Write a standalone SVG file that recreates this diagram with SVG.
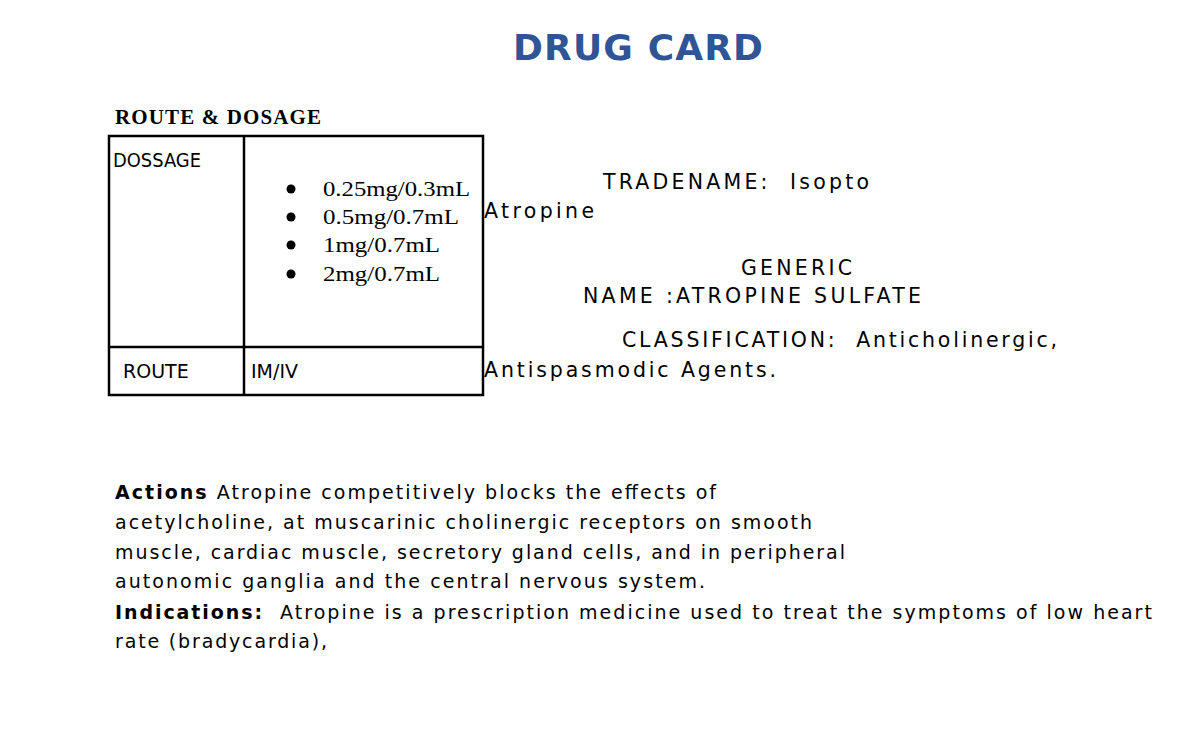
<svg xmlns="http://www.w3.org/2000/svg" width="1200" height="751" viewBox="0 0 1200 751">
<style>
.s{font-family:"DejaVu Sans",Verdana,sans-serif;font-size:19px;fill:#000}
.t{font-family:"DejaVu Sans",Verdana,sans-serif;font-size:20.5px;fill:#000}
.r{font-family:"Liberation Serif","Times New Roman",serif;font-size:21px;fill:#000}
.b{font-weight:bold}
</style>
<rect width="1200" height="751" fill="#fff"/>
<text x="513" y="60" textLength="250" lengthAdjust="spacing" font-family="DejaVu Sans,sans-serif" font-size="36" font-weight="bold" fill="#2f5597">DRUG CARD</text>
<text x="115" y="124" class="r b" font-size="19" textLength="206" lengthAdjust="spacing">ROUTE &amp; DOSAGE</text>
<g fill="none" stroke="#000" stroke-width="2.5">
<rect x="109" y="136" width="374" height="259"/>
<line x1="244" y1="136" x2="244" y2="395"/>
<line x1="109" y1="347" x2="483" y2="347"/>
</g>
<text x="113" y="167" class="s" font-size="15" textLength="88" lengthAdjust="spacingAndGlyphs">DOSSAGE</text>
<g fill="#000"><circle cx="291" cy="189" r="4.5"/><circle cx="291" cy="217" r="4.5"/><circle cx="291" cy="245" r="4.5"/><circle cx="291" cy="274" r="4.5"/></g>
<text x="323" y="196" class="r" textLength="147" lengthAdjust="spacingAndGlyphs">0.25mg/0.3mL</text>
<text x="323" y="224" class="r" textLength="136" lengthAdjust="spacingAndGlyphs">0.5mg/0.7mL</text>
<text x="323" y="252" class="r" textLength="117" lengthAdjust="spacingAndGlyphs">1mg/0.7mL</text>
<text x="323" y="281" class="r" textLength="117" lengthAdjust="spacingAndGlyphs">2mg/0.7mL</text>
<text x="123" y="378" class="s" font-size="16">ROUTE</text>
<text x="251" y="378" class="s" font-size="16">IM/IV</text>
<text x="603" y="189" class="t" textLength="266" lengthAdjust="spacing" xml:space="preserve">TRADENAME:  Isopto</text>
<text x="484" y="218" class="t" textLength="110" lengthAdjust="spacing">Atropine</text>
<text x="741" y="275" class="t" textLength="111" lengthAdjust="spacing">GENERIC</text>
<text x="583" y="303" class="t" textLength="338" lengthAdjust="spacing">NAME :ATROPINE SULFATE</text>
<text x="622" y="347" class="t" xml:space="preserve" textLength="435" lengthAdjust="spacing">CLASSIFICATION:  Anticholinergic,</text>
<text x="484" y="377" class="t" textLength="292" lengthAdjust="spacing">Antispasmodic Agents.</text>
<text x="115" y="499" class="s" textLength="601" lengthAdjust="spacing"><tspan class="b">Actions</tspan> Atropine competitively blocks the effects of</text>
<text x="115" y="529" class="s" textLength="697" lengthAdjust="spacing">acetylcholine, at muscarinic cholinergic receptors on smooth</text>
<text x="115" y="559" class="s" textLength="730" lengthAdjust="spacing">muscle, cardiac muscle, secretory gland cells, and in peripheral</text>
<text x="115" y="588" class="s" textLength="590" lengthAdjust="spacing">autonomic ganglia and the central nervous system.</text>
<text x="115" y="619" class="s" xml:space="preserve"><tspan class="b" textLength="147" lengthAdjust="spacing">Indications:</tspan><tspan textLength="888" lengthAdjust="spacing">  Atropine is a prescription medicine used to treat the symptoms of low heart</tspan></text>
<text x="115" y="648" class="s" textLength="212" lengthAdjust="spacing">rate (bradycardia),</text>
</svg>
